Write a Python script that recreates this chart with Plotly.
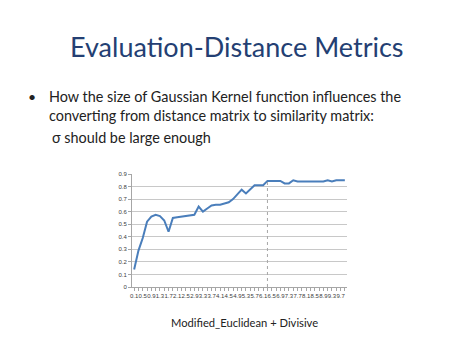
import plotly.graph_objects as go

categories = [f"{0.1 + 0.2 * i:.1f}" for i in range(50)]
values = [0.14, 0.29, 0.39, 0.52, 0.56, 0.575, 0.565, 0.53, 0.44, 0.55,
          0.555, 0.56, 0.57, 0.575, 0.575, 0.64, 0.60, 0.625, 0.65, 0.655,
          0.655, 0.665, 0.675, 0.70, 0.74, 0.775, 0.745, 0.78, 0.81, 0.81,
          0.81, 0.845, 0.845, 0.845, 0.845, 0.825, 0.825, 0.85, 0.84, 0.84,
          0.84, 0.84, 0.84, 0.84, 0.84, 0.85, 0.84, 0.85, 0.85, 0.85]
tick_labels = [c if i % 2 == 0 else "" for i, c in enumerate(categories)]
y_ticks = [0, 0.1, 0.2, 0.3, 0.4, 0.5, 0.6, 0.7, 0.8, 0.9]
marker_index = 31

title_text = "Evaluation-Distance Metrics"
bullet_lines = ["How the size of Gaussian Kernel function influences the",
                "converting from distance matrix to similarity matrix:"]
note_text = "σ should be large enough"
caption_text = "Modified_Euclidean + Divisive"

W, H = 474, 355
L, R, T, B = 132, 347, 174, 287

def px(x):
    return (x - L) / (R - L)

def py(y):
    return (B - y) / (B - T)

fig = go.Figure()
fig.add_trace(go.Scatter(x=categories, y=values, mode="lines",
                         line=dict(color="#4A7EBB", width=2), hoverinfo="skip"))

fig.add_shape(type="line", xref="x", yref="y",
              x0=marker_index, x1=marker_index,
              y0=0, y1=values[marker_index],
              line=dict(color="#A6A6A6", width=1, dash="dot"))

font_main = "Lato, Open Sans, sans-serif"
anns = [
    dict(text=title_text, x=px(237), y=py(47), font=dict(size=27, color="#243F73", family=font_main),
         xanchor="center", yanchor="middle"),
    dict(text="•", x=px(32), y=py(96), font=dict(size=14, color="#222", family=font_main),
         xanchor="center", yanchor="middle"),
    dict(text=bullet_lines[0], x=px(47), y=py(96), font=dict(size=14.4, color="#222", family=font_main),
         xanchor="left", yanchor="middle"),
    dict(text=bullet_lines[1], x=px(47), y=py(115), font=dict(size=14.4, color="#222", family=font_main),
         xanchor="left", yanchor="middle"),
    dict(text=note_text, x=px(50), y=py(137), font=dict(size=14.4, color="#222", family=font_main),
         xanchor="left", yanchor="middle"),
    dict(text=caption_text, x=px(244), y=py(322), font=dict(size=11.2, color="#222", family=font_main),
         xanchor="center", yanchor="middle"),
]
for a in anns:
    a.update(xref="paper", yref="paper", showarrow=False)

fig.update_layout(
    width=W, height=H,
    margin=dict(l=L, r=W - R, t=T, b=H - B, pad=0),
    paper_bgcolor="white", plot_bgcolor="white",
    showlegend=False,
    annotations=anns,
    xaxis=dict(type="category", range=[-0.5, len(categories) - 0.5],
               tickvals=categories, ticktext=tick_labels, tickangle=0,
               tickfont=dict(size=6, color="#404040", family="Liberation Sans, Arial"),
               ticks="outside", ticklen=3, tickcolor="#A6A6A6",
               showline=True, linecolor="#A6A6A6", linewidth=1,
               showgrid=False, zeroline=False, fixedrange=True),
    yaxis=dict(range=[0, 0.9], tickvals=y_ticks, ticktext=[str(v) for v in y_ticks],
               tickfont=dict(size=6, color="#404040", family="Liberation Sans, Arial"),
               ticks="outside", ticklen=3, tickcolor="#A6A6A6",
               showline=True, linecolor="#A6A6A6", linewidth=1,
               showgrid=True, gridcolor="#C8C8C8", gridwidth=1,
               zeroline=False, fixedrange=True),
)

fig.write_html("out.html", config={"displayModeBar": False})
